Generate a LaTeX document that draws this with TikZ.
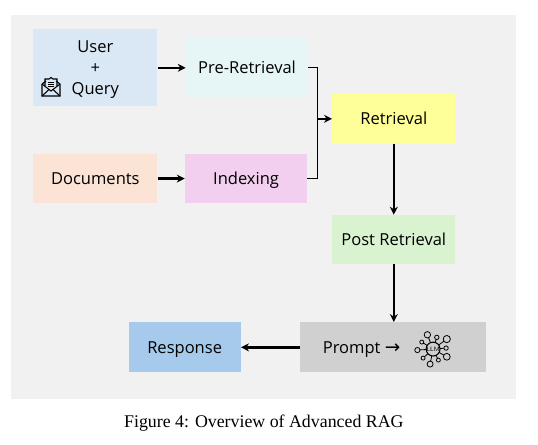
\documentclass[tikz,border=0pt]{standalone}
\usepackage{fontspec}
\setmainfont{Liberation Serif}
\newfontfamily\boxfont{Open Sans}
\newfontfamily\arrowfont{DejaVu Sans}
\usepackage{xcolor}
\usetikzlibrary{arrows.meta, positioning, calc}
\definecolor{panelgray}{HTML}{F1F1F1}
\definecolor{userblue}{HTML}{DAE8F6}
\definecolor{preteal}{HTML}{E6F6F7}
\definecolor{docpeach}{HTML}{FBE3D6}
\definecolor{indexpink}{HTML}{F2CFEE}
\definecolor{retryellow}{HTML}{FFFF99}
\definecolor{postgreen}{HTML}{D9F2D0}
\definecolor{promptgray}{HTML}{D0D0D0}
\definecolor{respblue}{HTML}{A6CAEC}
\tikzset{
  block/.style={rectangle, inner sep=0pt, minimum width=2.44cm, minimum height=0.98cm,
                align=center, text height=7.8pt, text depth=1pt,
                font=\boxfont\fontsize{9.4}{11.9}\selectfont},
  arrow/.style={-{Stealth[length=4.5pt,width=4.5pt]}, line width=1.3pt},
  bus/.style={line width=0.6pt},
  busarrow/.style={-{Stealth[length=4.5pt,width=4.5pt]}, line width=1.1pt},
  icon/.style={line width=0.45pt, x=0.02cm, y=-0.02cm},
}

\begin{document}
\begin{tikzpicture}[node distance=0.56cm]
  \useasboundingbox (0,0) rectangle (10.76,-8.88);
  \node[rectangle, fill=panelgray, inner sep=0pt, minimum width=10.10cm, minimum height=7.68cm,
        anchor=north west] (panel) at (0.22,-0.30) {};

  \node[block, fill=userblue, minimum width=2.48cm, minimum height=1.54cm, text height=, text depth=0pt,
        anchor=north west] (user) at (0.66,-0.58) {User\\+\\Query};
  \node[block, fill=preteal, minimum height=1.18cm, right=0.56cm of user] (pre) {Pre-Retrieval};
  \node[block, fill=docpeach, minimum width=2.48cm, below=0.94cm of user.south west, anchor=north west] (docs) {Documents};
  \node[block, fill=indexpink, right=0.54cm of docs] (index) {Indexing};
  \coordinate (busmid) at ($(pre.east)!0.46!(index.east)+(0.2,0)$);
  \node[block, fill=retryellow, minimum width=2.46cm, right=0.28cm of busmid] (retr) {Retrieval};
  \node[block, fill=postgreen, minimum width=2.46cm, below=1.46cm of retr, yshift=0.04cm] (post) {Post Retrieval};
  \node[block, fill=promptgray, minimum width=3.72cm, minimum height=1.00cm,
        anchor=north west] (prompt) at (6.00,-6.44) {};
  \node[block, fill=respblue, minimum width=2.24cm, minimum height=1.00cm,
        left=1.18cm of prompt] (resp) {Response};
  \node[block, anchor=west, minimum width=0pt, minimum height=0pt] (prompttxt)
        at ([xshift=0.45cm]prompt.west) {Prompt {\arrowfont\fontsize{10.5}{10}\selectfont →}};

  % envelope on the user box
  \begin{scope}[icon, shift={(51,87)}]
    \draw[line width=0.6pt] (-9,-3) -- (-9,9) -- (9,9) -- (9,-3) -- (5,-6);
    \draw[line width=0.6pt] (-5,-6) -- (-9,-3);
    \draw[line width=0.6pt] (-6,-1) -- (-6,-8) -- (-2,-8) -- (0,-9.5) -- (2,-8) -- (6,-8) -- (6,-1);
    \draw (-3,-5) -- (3,-5) (-3,-3) -- (3,-3) (-3,-1) -- (3,-1);
    \draw[line width=0.6pt] (-9,-3) -- (0,4) -- (9,-3);
    \draw[line width=0.6pt] (-9,9) -- (-2,2.5) (9,9) -- (2,2.5);
  \end{scope}

  % llm icon on the prompt box
  \begin{scope}[icon, shift={(433,349)}]
    \foreach \dx/\dy/\r in {-5.7/-14.3/3.2, 3.7/-11.7/2.2, 13.7/-10/3.6, -11.3/-7/2,
                            13/-1/2.2, -15.7/1/2.6, -10/9/2, 5.3/11/2, 13.7/7.7/3.4, -3/15/3}
      \draw ($(0,0)!{6.8/veclen(\dx,\dy)}!(\dx,\dy)$) -- ($(0,0)!{(veclen(\dx,\dy)-\r)/veclen(\dx,\dy)}!(\dx,\dy)$)
            (\dx,\dy) circle[radius=\r];
    \node[circle, draw, line width=0.6pt, minimum size=0.27cm, inner sep=0pt,
          font=\sffamily\fontsize{3.6}{4}\selectfont] (llm) at (0,0) {LLM};
  \end{scope}

  \draw[arrow] (user.east |- pre.east) -- (pre.west);
  \draw[arrow] (docs) -- (index);
  \draw[bus] (pre.east) -| (busmid) |- (index.east);
  \draw[busarrow] (busmid) -- (retr.west);
  \draw[arrow] (retr) -- (post);
  \draw[arrow] (post) -- (post.south |- prompt.north);
  \draw[arrow] (prompt) -- (resp);

  \node[below=0.18cm of panel, font=\fontsize{10.15}{12}\selectfont] (caption) {Figure 4: Overview of Advanced RAG};
\end{tikzpicture}
\end{document}
